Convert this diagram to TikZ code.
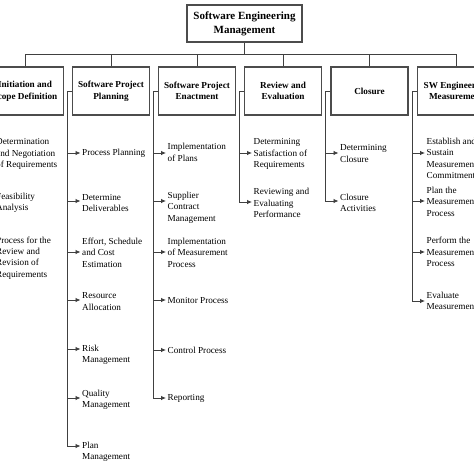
\documentclass[tikz,border=0pt]{standalone}
\usepackage{fontspec}
\setmainfont{Liberation Serif}
\usetikzlibrary{arrows.meta}
\begin{document}
\begin{tikzpicture}[x=1pt,y=-1pt,
  conn/.style={draw=black!75,line width=0.8pt},
  arr/.style={conn,-{Latex[length=5pt,width=4.5pt]},shorten >=1.5pt},
  topbox/.style={draw=black!70,line width=1.1pt,minimum width=115pt,minimum height=37pt,align=center,inner sep=0pt,font=\fontsize{11}{14}\selectfont\bfseries},
  catbox/.style={draw=black!70,line width=1.1pt,minimum width=77pt,minimum height=48pt,align=center,inner sep=0pt,font=\fontsize{9.2}{11.6}\selectfont\bfseries},
  item/.style={anchor=west,align=left,inner sep=0pt,font=\fontsize{9.2}{11.4}\selectfont}]
\useasboundingbox (0,0) rectangle (474,474);
\clip (0,0) rectangle (474,474);
\fill[white] (0,0) rectangle (474,474);

\coordinate (hy) at (0,54);
\node[topbox] (top) at (244.5,23.5) {Software Engineering\\Management};
\node[catbox] (b1) at (25,91) {Initiation and\\Scope Definition};
\node[catbox] (b2) at (111,91) {Software Project\\Planning};
\node[catbox] (b3) at (197,91) {Software Project\\Enactment};
\node[catbox] (b4) at (283,91) {Review and\\Evaluation};
\node[catbox] (b5) at (369.5,91) {Closure};
\node[catbox] (b6) at (456,91) {SW Engineering\\Measurement};

\draw[conn] (top.south) -- (top.south |- hy);
\draw[conn] (b1.north) -- (b1.north |- hy) -- (b6.north |- hy) -- (b6.north);
\foreach \b in {b2,b3,b4,b5} \draw[conn] (\b.north) -- (\b.north |- hy);

% trunk corners
\coordinate (k1) at (-18.5,91);
\coordinate (k2) at (67,91);
\coordinate (k3) at (153,91);
\coordinate (k4) at (239,91);
\coordinate (k5) at (325,91);
\coordinate (k6) at (412,91);

% column 1
\node[item] (n1a) at (-4,154) {Determination\\and Negotiation\\of Requirements};
\node[item] (n1b) at (-4,202.5) {Feasibility\\Analysis};
\node[item] (n1c) at (-4,258) {Process for the\\Review and\\Revision of\\Requirements};
\draw[conn] (b1.west) -- (k1) -- (k1 |- 0,252);
\draw[arr] (k1 |- 0,153) -- (n1a.west |- 0,153);
\draw[arr] (k1 |- 0,201) -- (n1b.west |- 0,201);
\draw[arr] (k1 |- 0,252) -- (n1c.west |- 0,252);

% column 2
\node[item] (n2a) at (82,153) {Process Planning};
\node[item] (n2b) at (82,203) {Determine\\Deliverables};
\node[item] (n2c) at (82,252.5) {Effort, Schedule\\and Cost\\Estimation};
\node[item] (n2d) at (82,301.5) {Resource\\Allocation};
\node[item] (n2e) at (82,355) {Risk\\Management};
\node[item] (n2f) at (82,400) {Quality\\Management};
\node[item] (n2g) at (82,452) {Plan\\Management};
\draw[conn] (b2.west) -- (k2) -- (k2 |- 0,446);
\draw[arr] (k2 |- 0,153) -- (n2a.west |- 0,153);
\draw[arr] (k2 |- 0,201) -- (n2b.west |- 0,201);
\draw[arr] (k2 |- 0,252) -- (n2c.west |- 0,252);
\draw[arr] (k2 |- 0,300) -- (n2d.west |- 0,300);
\draw[arr] (k2 |- 0,349) -- (n2e.west |- 0,349);
\draw[arr] (k2 |- 0,398) -- (n2f.west |- 0,398);
\draw[arr] (k2 |- 0,446) -- (n2g.west |- 0,446);

% column 3
\node[item] (n3a) at (167.5,152.5) {Implementation\\of Plans};
\node[item] (n3b) at (167.5,207.5) {Supplier\\Contract\\Management};
\node[item] (n3c) at (167.5,252.5) {Implementation\\of Measurement\\Process};
\node[item] (n3d) at (167.5,300) {Monitor Process};
\node[item] (n3e) at (167.5,350) {Control Process};
\node[item] (n3f) at (167.5,398) {Reporting};
\draw[conn] (b3.west) -- (k3) -- (k3 |- 0,398);
\draw[arr] (k3 |- 0,153) -- (n3a.west |- 0,153);
\draw[arr] (k3 |- 0,201) -- (n3b.west |- 0,201);
\draw[arr] (k3 |- 0,252) -- (n3c.west |- 0,252);
\draw[arr] (k3 |- 0,300) -- (n3d.west |- 0,300);
\draw[arr] (k3 |- 0,350) -- (n3e.west |- 0,350);
\draw[arr] (k3 |- 0,398) -- (n3f.west |- 0,398);

% column 4
\node[item] (n4a) at (253.5,154) {Determining\\Satisfaction of\\Requirements};
\node[item] (n4b) at (253.5,203) {Reviewing and\\Evaluating\\Performance};
\draw[conn] (b4.west) -- (k4) -- (k4 |- 0,202);
\draw[arr] (k4 |- 0,153) -- (n4a.west |- 0,153);
\draw[arr] (k4 |- 0,202) -- (n4b.west |- 0,202);

% column 5
\node[item] (n5a) at (340,153.5) {Determining\\Closure};
\node[item] (n5b) at (340,203) {Closure\\Activities};
\draw[conn] (b5.west) -- (k5) -- (k5 |- 0,201);
\draw[arr] (k5 |- 0,153) -- (n5a.west |- 0,153);
\draw[arr] (k5 |- 0,201) -- (n5b.west |- 0,201);

% column 6
\node[item] (n6a) at (426.5,158.5) {Establish and\\Sustain\\Measurement\\Commitment};
\node[item] (n6b) at (426.5,201.5) {Plan the\\Measurement\\Process};
\node[item] (n6c) at (426.5,252) {Perform the\\Measurement\\Process};
\node[item] (n6d) at (426.5,301) {Evaluate\\Measurement};
\draw[conn] (b6.west) -- (k6) -- (k6 |- 0,301);
\draw[arr] (k6 |- 0,153) -- (n6a.west |- 0,153);
\draw[arr] (k6 |- 0,201) -- (n6b.west |- 0,201);
\draw[arr] (k6 |- 0,252) -- (n6c.west |- 0,252);
\draw[arr] (k6 |- 0,301) -- (n6d.west |- 0,301);
\end{tikzpicture}
\end{document}
